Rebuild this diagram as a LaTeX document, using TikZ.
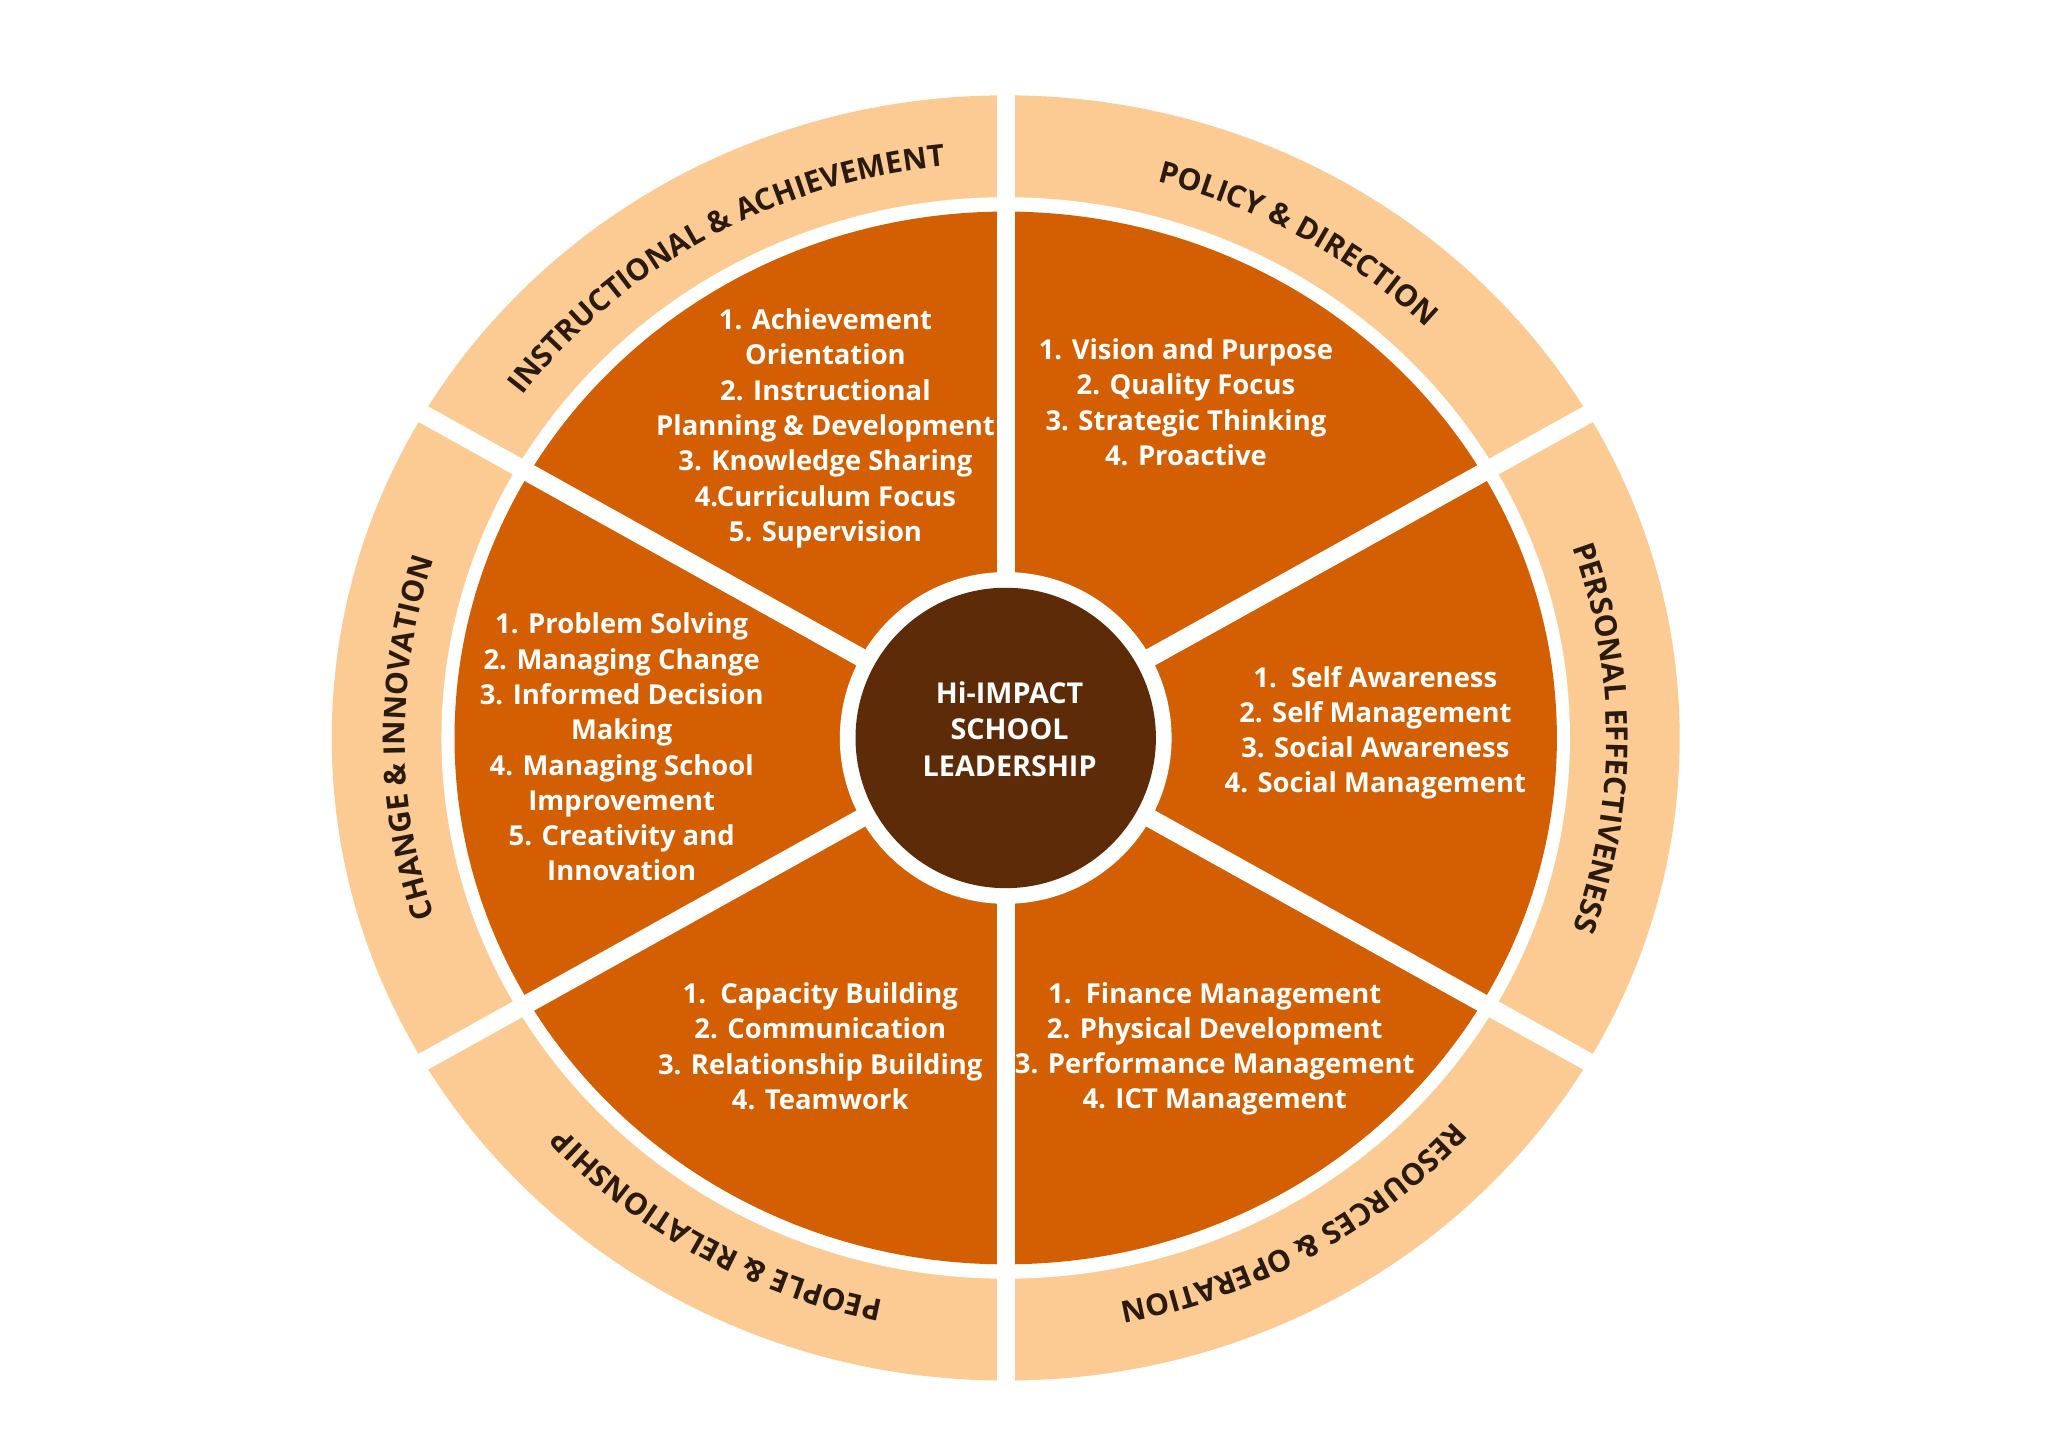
\documentclass[tikz,border=0pt]{standalone}
\usepackage{fontspec}
\setmainfont{Open Sans}
\usetikzlibrary{decorations.text}
\definecolor{peach}{HTML}{FBCB93}
\definecolor{orng}{HTML}{D45F02}
\definecolor{dark}{HTML}{5E2B08}
\definecolor{txt}{HTML}{2A1A10}
\tikzset{
  item/.style={text=white,font=\fontsize{10.5}{13.5}\selectfont\bfseries,align=center},
  sep/.style={white,line width=7pt},
}
\newcommand{\ringlabel}[2]{%
  \path[decorate,decoration={text along path,text align=center,
    text={|\fontsize{11.5}{12}\selectfont\bfseries\color{txt}|#2}}]
    ({460*cos(#1+45)},{440*sin(#1+45)}) arc[start angle=#1+45,end angle=#1-45,x radius=460,y radius=440];}
\begin{document}
\begin{tikzpicture}[x=0.5pt,y=0.5pt]
\useasboundingbox[fill=white] (-770,-542) rectangle (798,565);
\fill[peach] (0,0) ellipse[x radius=516,y radius=492];
\fill[white] (0,0) ellipse[x radius=432,y radius=414];
\fill[orng] (0,0) ellipse[x radius=422,y radius=403];
\foreach \a in {90,30,-30,-90,150,210}
  \draw[sep] (0,0) -- ({540*cos(\a)},{520*sin(\a)});
\fill[white] (0,0) circle[radius=127];
\node[circle,fill=dark,minimum size=115pt,inner sep=0pt] (c) at (0,0) {};
\node[item,font=\fontsize{11}{14}\selectfont\bfseries] (ct) at (3,7) {Hi-IMPACT\\SCHOOL\\LEADERSHIP};
\node[item] (tl) at (-138,237) {1. Achievement\\Orientation\\2. Instructional\\Planning \& Development\\3. Knowledge Sharing\\4.Curriculum Focus\\5. Supervision};
\node[item] (tr) at (138,257) {1. Vision and Purpose\\2. Quality Focus\\3. Strategic Thinking\\4. Proactive};
\node[item] (r) at (283,4) {1.\ \ Self Awareness\\2. Self Management\\3. Social Awareness\\4. Social Management};
\node[item] (br) at (160,-238) {1.\ \ Finance Management\\2. Physical Development\\3. Performance Management\\4. ICT Management};
\node[item] (bl) at (-142,-236) {1.\ \ Capacity Building\\2. Communication\\3. Relationship Building\\4. Teamwork};
\node[item] (l) at (-294,-7) {1. Problem Solving\\2. Managing Change\\3. Informed Decision\\Making\\4. Managing School\\Improvement\\5. Creativity and\\Innovation};
\ringlabel{60}{POLICY {\&} DIRECTION}
\ringlabel{0}{PERSONAL EFFECTIVENESS}
\ringlabel{-60}{RESOURCES {\&} OPERATION}
\ringlabel{-120}{PEOPLE {\&} RELATIONSHIP}
\ringlabel{-180}{CHANGE {\&} INNOVATION}
\ringlabel{-240}{INSTRUCTIONAL {\&} ACHIEVEMENT}
\end{tikzpicture}
\end{document}
